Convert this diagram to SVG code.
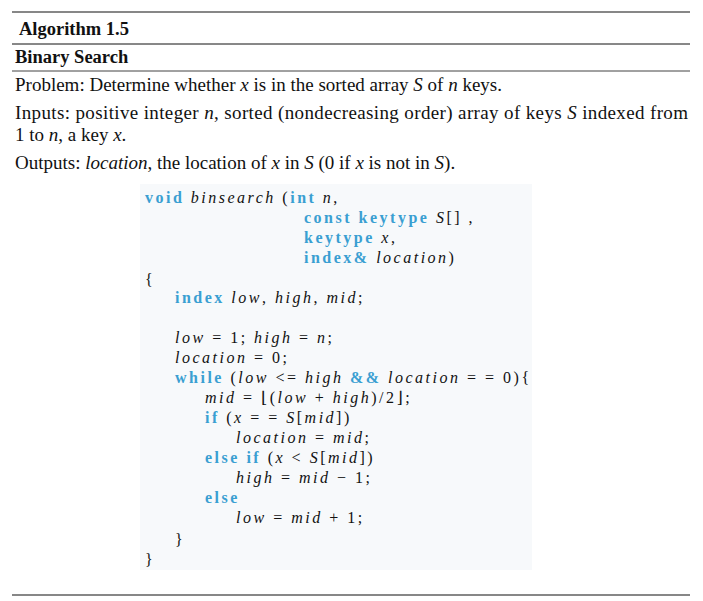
<svg xmlns="http://www.w3.org/2000/svg" width="703" height="601" viewBox="0 0 703 601">
<style>
text{font-family:"Liberation Serif","DejaVu Serif",serif;fill:#111;}
.h{font-size:18.5px;font-weight:bold;}
.p{font-size:19px;}
.c{font-size:16px;letter-spacing:2.5px;}
.k{fill:#3a9fd2;font-weight:bold;}
.i{font-style:italic;}
line{stroke:#111;}
</style>
<rect width="703" height="601" fill="#fff"/>
<line x1="12" y1="12" x2="690" y2="12" stroke-width="1.2"/>
<line x1="12" y1="44" x2="690" y2="44" stroke-width="1"/>
<line x1="12" y1="71" x2="690" y2="71" stroke-width="0.8"/>
<line x1="12" y1="595" x2="690" y2="595" stroke-width="1.2"/>
<text class="h" x="19" y="35">Algorithm 1.5</text>
<text class="h" x="15" y="63">Binary Search</text>
<text class="p" x="15" y="91">Problem: Determine whether <tspan class="i">x</tspan> is in the sorted array <tspan class="i">S</tspan> of <tspan class="i">n</tspan> keys.</text>
<text class="p" x="15" y="119" textLength="673" lengthAdjust="spacing">Inputs: positive integer <tspan class="i">n</tspan>, sorted (nondecreasing order) array of keys <tspan class="i">S</tspan> indexed from</text>
<text class="p" x="15" y="141">1 to <tspan class="i">n</tspan>, a key <tspan class="i">x</tspan>.</text>
<text class="p" x="15" y="169">Outputs: <tspan class="i">location</tspan>, the location of <tspan class="i">x</tspan> in <tspan class="i">S</tspan> (0 if <tspan class="i">x</tspan> is not in <tspan class="i">S</tspan>).</text>
<rect x="140" y="184" width="392" height="386" fill="#f7f9fb"/>
<g class="c">
<text x="145" y="203"><tspan class="k">void</tspan> <tspan class="i">binsearch</tspan> (<tspan class="k">int</tspan> <tspan class="i">n</tspan>,</text>
<text x="304" y="223"><tspan class="k">const keytype</tspan> <tspan class="i">S</tspan>[] ,</text>
<text x="304" y="243"><tspan class="k">keytype</tspan> <tspan class="i">x</tspan>,</text>
<text x="304" y="263"><tspan class="k">index&amp;</tspan> <tspan class="i">location</tspan>)</text>
<text x="145" y="285">{</text>
<text x="175" y="303"><tspan class="k">index</tspan> <tspan class="i">low</tspan>, <tspan class="i">high</tspan>, <tspan class="i">mid</tspan>;</text>
<text x="175" y="343"><tspan class="i">low</tspan> = 1; <tspan class="i">high</tspan> = <tspan class="i">n</tspan>;</text>
<text x="175" y="363"><tspan class="i">location</tspan> = 0;</text>
<text x="175" y="383"><tspan class="k">while</tspan> (<tspan class="i">low</tspan>  &lt;= <tspan class="i">high</tspan> <tspan class="k">&amp;&amp;</tspan> <tspan class="i">location</tspan> = = 0){</text>
<text x="205" y="403"><tspan class="i">mid</tspan> = ⌊(<tspan class="i">low</tspan> + <tspan class="i">high</tspan>)/2⌋;</text>
<text x="205" y="423"><tspan class="k">if</tspan> (<tspan class="i">x</tspan> = = <tspan class="i">S</tspan>[<tspan class="i">mid</tspan>])</text>
<text x="236" y="443"><tspan class="i">location</tspan> = <tspan class="i">mid</tspan>;</text>
<text x="205" y="463"><tspan class="k">else if</tspan> (<tspan class="i">x</tspan> &lt; <tspan class="i">S</tspan>[<tspan class="i">mid</tspan>])</text>
<text x="236" y="483"><tspan class="i">high</tspan> = <tspan class="i">mid</tspan> − 1;</text>
<text x="205" y="503"><tspan class="k">else</tspan></text>
<text x="236" y="523"><tspan class="i">low</tspan> = <tspan class="i">mid</tspan> + 1;</text>
<text x="175" y="545">}</text>
<text x="145" y="565">}</text>
</g>
</svg>
